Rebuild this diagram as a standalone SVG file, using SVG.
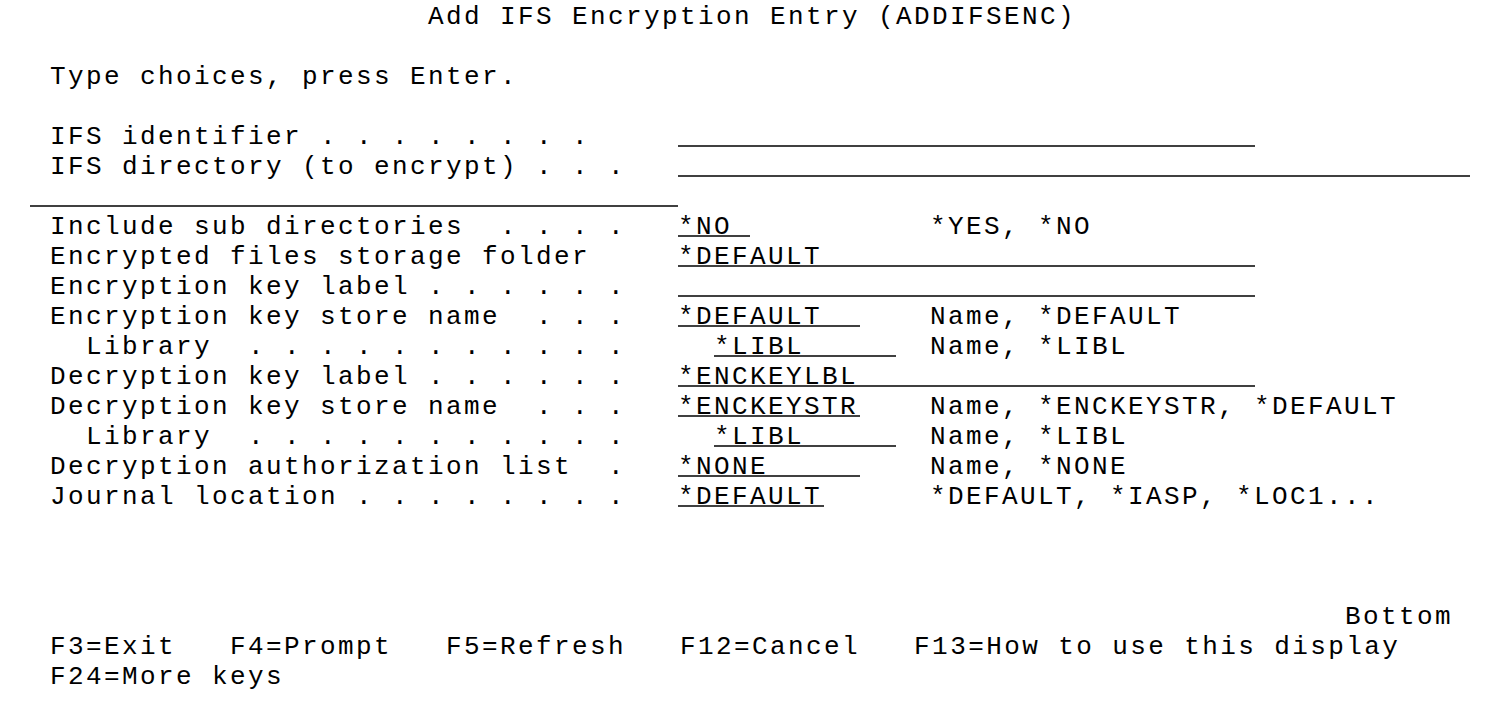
<svg xmlns="http://www.w3.org/2000/svg" width="1494" height="716" viewBox="0 0 1494 716">
<style>
text{font-family:"Liberation Mono","DejaVu Sans Mono",monospace;font-size:26px;letter-spacing:2.4px;fill:#000;white-space:pre}
line{stroke:#000;stroke-width:1.5}
</style>
<rect width="1494" height="716" fill="#fff"/>
<g id="title"><text x="428" y="24">Add IFS Encryption Entry (ADDIFSENC)</text></g>
<g id="labels">
<text x="50" y="84">Type choices, press Enter.</text>
<text x="50" y="144">IFS identifier . . . . . . . .</text>
<text x="50" y="174">IFS directory (to encrypt) . . .</text>
<text x="50" y="234">Include sub directories  . . . .</text>
<text x="50" y="264">Encrypted files storage folder</text>
<text x="50" y="294">Encryption key label . . . . . .</text>
<text x="50" y="324">Encryption key store name  . . .</text>
<text x="50" y="354">  Library  . . . . . . . . . . .</text>
<text x="50" y="384">Decryption key label . . . . . .</text>
<text x="50" y="414">Decryption key store name  . . .</text>
<text x="50" y="444">  Library  . . . . . . . . . . .</text>
<text x="50" y="474">Decryption authorization list  .</text>
<text x="50" y="504">Journal location . . . . . . . .</text>
</g>
<g id="values">
<text x="678" y="234">*NO</text>
<text x="678" y="264">*DEFAULT</text>
<text x="678" y="324">*DEFAULT</text>
<text x="714" y="354">*LIBL</text>
<text x="678" y="384">*ENCKEYLBL</text>
<text x="678" y="414">*ENCKEYSTR</text>
<text x="714" y="444">*LIBL</text>
<text x="678" y="474">*NONE</text>
<text x="678" y="504">*DEFAULT</text>
</g>
<g id="hints">
<text x="930" y="234">*YES, *NO</text>
<text x="930" y="324">Name, *DEFAULT</text>
<text x="930" y="354">Name, *LIBL</text>
<text x="930" y="414">Name, *ENCKEYSTR, *DEFAULT</text>
<text x="930" y="444">Name, *LIBL</text>
<text x="930" y="474">Name, *NONE</text>
<text x="930" y="504">*DEFAULT, *IASP, *LOC1...</text>
</g>
<g id="connectors">
<line x1="678" y1="146" x2="1255" y2="146"/>
<line x1="678" y1="176" x2="1470" y2="176"/>
<line x1="30" y1="206" x2="678" y2="206"/>
<line x1="678" y1="236" x2="750" y2="236"/>
<line x1="678" y1="266" x2="1255" y2="266"/>
<line x1="678" y1="296" x2="1255" y2="296"/>
<line x1="678" y1="326" x2="860" y2="326"/>
<line x1="714" y1="356" x2="896" y2="356"/>
<line x1="678" y1="386" x2="1255" y2="386"/>
<line x1="678" y1="416" x2="860" y2="416"/>
<line x1="714" y1="446" x2="896" y2="446"/>
<line x1="678" y1="476" x2="860" y2="476"/>
<line x1="678" y1="506" x2="824" y2="506"/>
</g>
<g id="footer">
<text x="1345" y="624">Bottom</text>
<text x="50" y="654">F3=Exit   F4=Prompt   F5=Refresh   F12=Cancel   F13=How to use this display</text>
<text x="50" y="684">F24=More keys</text>
</g>
</svg>
